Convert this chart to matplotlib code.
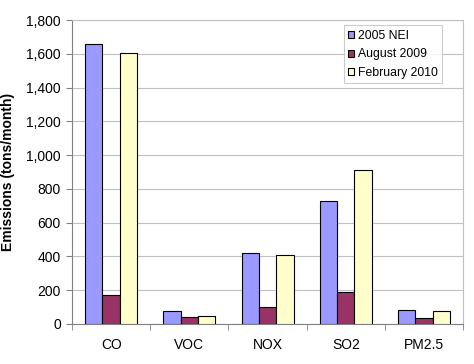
import numpy as np
import matplotlib.pyplot as plt
from matplotlib.ticker import FuncFormatter

plt.rcParams['font.family'] = ['Liberation Sans', 'DejaVu Sans']

# Data
pollutants = ['CO', 'VOC', 'NOX', 'SO2', 'PM2.5']
nei_2005 = [1656, 75, 418, 726, 85]
aug_2009 = [173, 43, 103, 189, 36]
feb_2010 = [1607, 49, 407, 910, 75]
series_names = ['2005 NEI', 'August 2009', 'February 2010']

colors = ['#9999FF', '#993366', '#FFFFCC']

fig = plt.figure(figsize=(4.74, 3.64), dpi=100)
ax = fig.add_axes([0.152, 0.110, 0.825, 0.835])

x = np.arange(len(pollutants))
width = 0.222
for i, (vals, name) in enumerate(zip([nei_2005, aug_2009, feb_2010], series_names)):
    ax.bar(x + (i - 1) * width, vals, width, color=colors[i], edgecolor='black',
           linewidth=0.8, label=name, zorder=3)

ax.set_xlim(-0.5, len(pollutants) - 0.5)
ax.set_ylim(0, 1800)
ax.set_yticks(np.arange(0, 1801, 200))
ax.yaxis.set_major_formatter(FuncFormatter(lambda v, p: f'{int(v):,}'))
ax.yaxis.grid(True, color='#c0c0c0', linewidth=0.8, zorder=0)

# category labels centred, tick marks between categories
ax.set_xticks(x)
ax.set_xticklabels(pollutants)
ax.tick_params(axis='x', length=0, pad=10, labelsize=10)
ax.set_xticks(np.arange(-0.5, len(pollutants)), minor=True)
ax.tick_params(axis='x', which='minor', length=4, color='#808080')
ax.tick_params(axis='y', length=4, color='#808080', labelsize=10, pad=4)

for side in ['top', 'right']:
    ax.spines[side].set_color('#c0c0c0')
for side in ['left', 'bottom']:
    ax.spines[side].set_color('#808080')

ax.set_ylabel('Emissions (tons/month)', fontsize=10, fontweight='bold', labelpad=8)

leg = ax.legend(loc='upper right', bbox_to_anchor=(0.946, 0.982), fontsize=8.8,
                frameon=True, fancybox=False, handlelength=0.5, handleheight=0.5,
                handletextpad=0.3, borderpad=0.35, labelspacing=0.55, borderaxespad=0)
leg.get_frame().set_edgecolor('#c0c0c0')
leg.get_frame().set_linewidth(0.8)

fig.savefig('out.png', dpi=100)
